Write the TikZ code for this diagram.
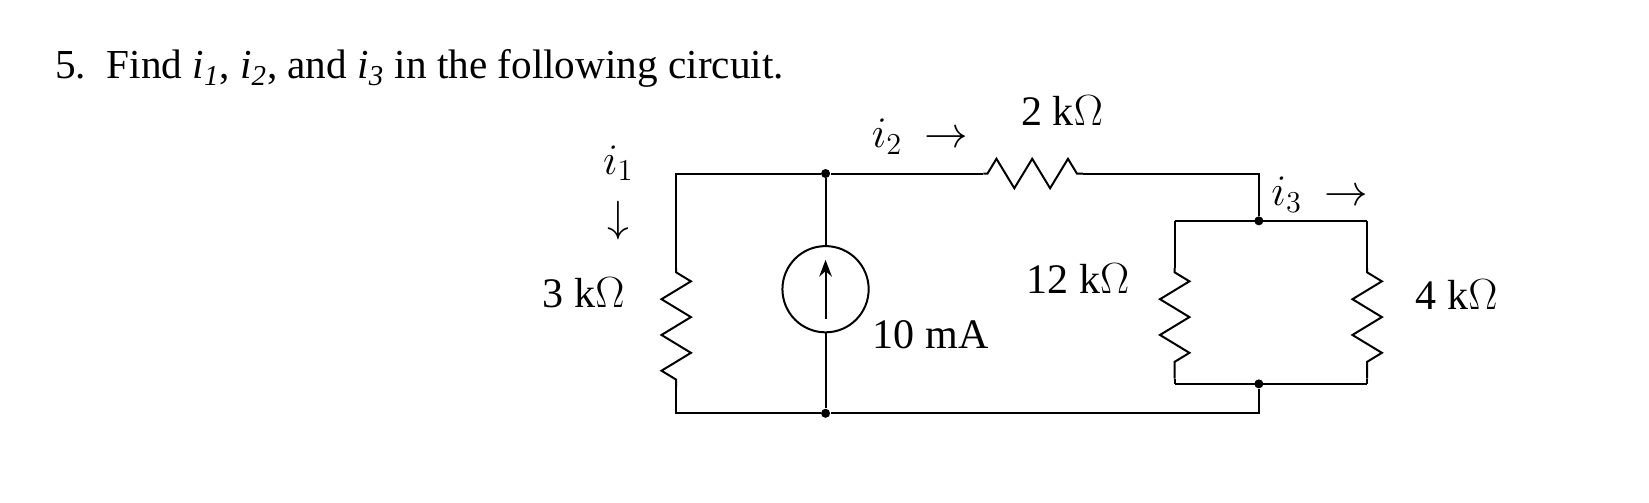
\documentclass[tikz,border=0pt]{standalone}
\usepackage{fontspec}
\setmainfont{Liberation Serif}
\usetikzlibrary{decorations.pathmorphing,arrows.meta}
\begin{document}
\begin{tikzpicture}[x=0.5pt,y=-0.5pt]
\tikzset{
  wire/.style={line width=0.95pt},
  res/.style={wire,decorate,decoration={zigzag,segment length=17pt,amplitude=7pt,pre length=2pt,post length=2pt}},
  dot/.style={circle,fill,inner sep=0pt,minimum size=4.3pt},
  lbl/.style={font=\fontsize{20}{24}\selectfont,inner sep=1pt},
}
\useasboundingbox (0,0) rectangle (1568,478);
\node[anchor=base west,inner sep=0pt,font=\fontsize{19.6}{23}\selectfont] (title) at (52,75)
  {5.\ \ Find \textit{i\textsubscript{1}}, \textit{i\textsubscript{2}}, and \textit{i\textsubscript{3}} in the following circuit.};
% nodes
\coordinate (tl) at (643,165);
\node[dot] (n1) at (785,165) {};
\node[dot] (n2) at (785,393) {};
\coordinate (bl) at (643,393);
\coordinate (r1a) at (643,255);
\coordinate (r1b) at (643,368);
\coordinate (r2a) at (935,165);
\coordinate (r2b) at (1030,165);
\coordinate (tr) at (1197,165);
\node[dot] (n3) at (1197,210) {};
\node[dot] (n4) at (1197,365) {};
\coordinate (br) at (1197,393);
\coordinate (a1) at (1117,210);
\coordinate (a2) at (1117,365);
\coordinate (b1) at (1300,210);
\coordinate (b2) at (1300,365);
\coordinate (r3a) at (1117,255);
\coordinate (r3b) at (1117,360);
\coordinate (r4a) at (1300,255);
\coordinate (r4b) at (1300,360);
\node[draw,circle,wire,minimum size=41pt,inner sep=0pt] (src) at (785,275) {};
% wires
\draw[wire] (n1) -- (tl) -- (r1a);
\draw[res] (r1a) -- (r1b);
\draw[wire] (r1b) -- (bl) -- (n2) -- (br) -- (n4);
\draw[wire] (n1) -- (src) -- (n2);
\draw[-{Stealth[length=8pt]},wire] ([yshift=-14pt]src.center) -- ([yshift=14pt]src.center);
\draw[wire] (n1) -- (r2a);
\draw[res] (r2a) -- (r2b);
\draw[wire] (r2b) -- (tr) -- (n3);
\draw[wire] (a1) -- (b1);
\draw[wire] (a2) -- (b2);
\draw[wire] (a1) -- (r3a); \draw[res] (r3a) -- (r3b); \draw[wire] (r3b) -- (a2);
\draw[wire] (b1) -- (r4a); \draw[res] (r4a) -- (r4b); \draw[wire] (r4b) -- (b2);
% labels
\node[lbl] (i1) at (588,155) {$i_1$};
\node[lbl] (i1a) at (588,210) {$\downarrow$};
\node[lbl] (l3k) at (555,278) {3 k$\Omega$};
\node[lbl] (i2) at (875,130) {$i_2\ \rightarrow$};
\node[lbl] (l2k) at (1010,105) {2 k$\Omega$};
\node[lbl] (l12k) at (1025,265) {12 k$\Omega$};
\node[lbl] (lmA) at (885,318) {10 mA};
\node[lbl] (i3) at (1255,185) {$i_3\ \rightarrow$};
\node[lbl] (l4k) at (1385,280) {4 k$\Omega$};
\end{tikzpicture}
\end{document}
